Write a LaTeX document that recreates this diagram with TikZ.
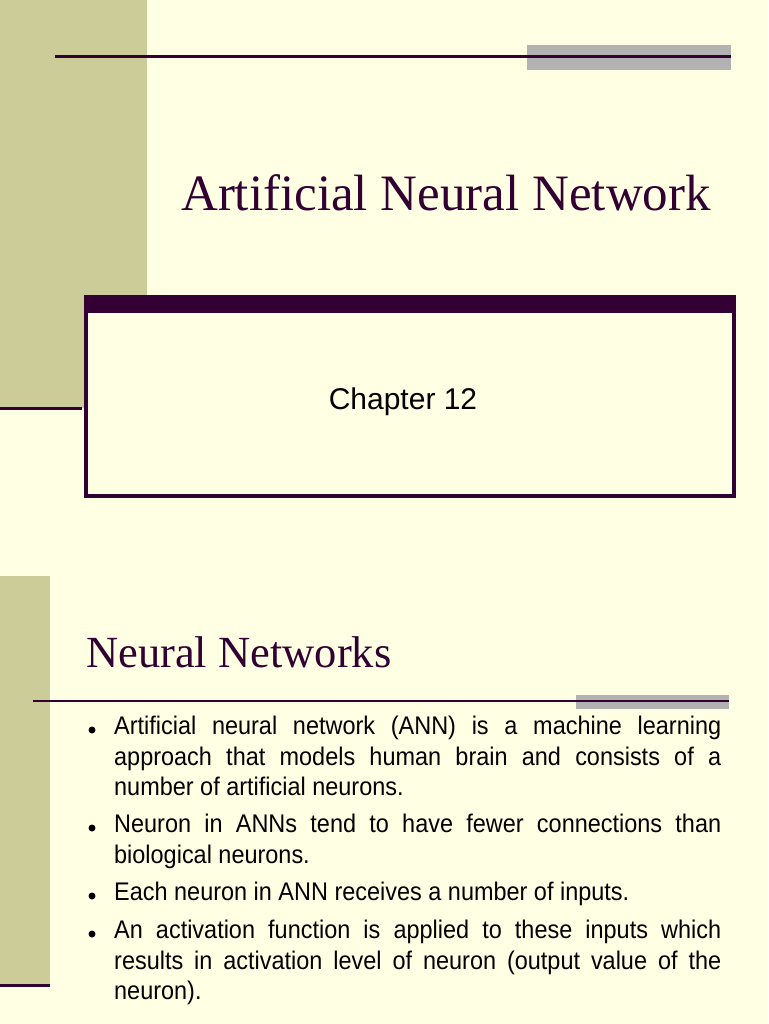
\documentclass[tikz,border=0pt]{standalone}
\usepackage{fontspec}
\setmainfont{Liberation Serif}
\setsansfont{Liberation Sans}
\newfontfamily\bulfont[FakeStretch=0.92]{Liberation Sans}
\hyphenpenalty=10000
\exhyphenpenalty=10000
\begin{document}
\begin{tikzpicture}[x=1pt,y=-1pt,
  dk/.style={draw=ttl,line width=3pt},
  bul/.style={anchor=north west,text width=607pt,align=justify,inner sep=0pt,font=\bulfont\fontsize{25.5}{30.6}\selectfont,text=black},
  dot/.style={circle,fill=black,inner sep=0pt,minimum size=7pt}]
\definecolor{bg}{HTML}{FFFFE3}
\definecolor{olive}{HTML}{CCCC99}
\definecolor{ttl}{HTML}{330033}
\definecolor{gbar}{HTML}{B2B2B2}
\fill[bg] (0,0) rectangle (768,1024);
\useasboundingbox (0,0) rectangle (768,1024);
% slide 1
\fill[olive] (0,0) rectangle (147,408);
\draw[dk] (0,408) -- (82,408);
\fill[gbar] (527,45) rectangle (731,70);
\draw[dk] (55,57) -- (731,57);
\node[font=\fontsize{51}{56}\selectfont,text=ttl] (title) at (446,193) {Artificial Neural Network};
\fill[ttl] (84,295) rectangle (736,313);
\draw[ttl,line width=4pt,fill=bg] (86,311) rectangle (734,496);
\node[font=\sffamily\fontsize{30}{34}\selectfont] (chap) at (403,402) {Chapter 12};
% slide 2
\fill[olive] (0,576) rectangle (50,985);
\draw[dk] (0,985) -- (50,985);
\node[anchor=west,inner sep=0pt,font=\fontsize{44.5}{50}\selectfont,text=ttl] (h2) at (86,652) {Neural Networks};
\fill[gbar] (576,695) rectangle (729,709);
\draw[ttl,line width=2pt] (33,701) -- (729,701);
\node[bul] (b1) at (114,716) {Artificial neural network (ANN) is a machine learning approach that models human brain and consists of a number of artificial neurons.};
\node[bul] (b2) at (114,814) {Neuron in ANNs tend to have fewer connections than biological neurons.};
\node[bul] (b3) at (114,882) {Each neuron in ANN receives a number of inputs.};
\node[bul] (b4) at (114,920) {An activation function is applied to these inputs which results in activation level of neuron (output value of the neuron).};
\foreach \y in {730,828,896,934} \node[dot] at (92,\y) {};
\end{tikzpicture}
\end{document}
